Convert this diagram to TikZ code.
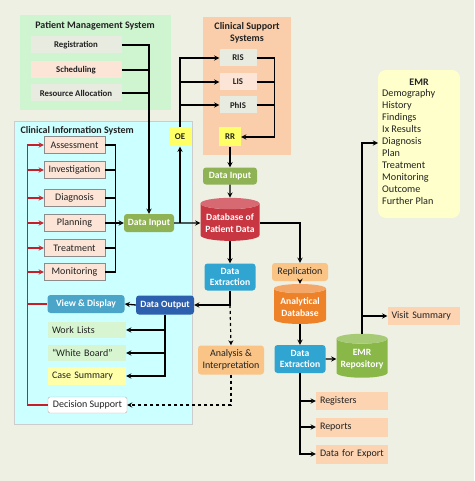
\documentclass[tikz,border=0pt]{standalone}
\usepackage{fontspec}
\setmainfont{Carlito}
\usetikzlibrary{shapes.geometric}
\newlength{\du}
\setlength{\du}{1pt}
\definecolor{bgcolor}{rgb}{0.929, 0.941, 0.886}
\definecolor{pmsgreen}{rgb}{0.808, 0.957, 0.816}
\definecolor{csspeach}{rgb}{0.980, 0.808, 0.667}
\definecolor{ciscyan}{rgb}{0.800, 1.000, 1.000}
\definecolor{itemgray}{rgb}{0.910, 0.922, 0.878}
\definecolor{itempink}{rgb}{0.988, 0.894, 0.839}
\definecolor{hiyellow}{rgb}{1.000, 1.000, 0.400}
\definecolor{inputgreen}{rgb}{0.561, 0.702, 0.329}
\definecolor{dbred}{rgb}{0.784, 0.216, 0.255}
\definecolor{extblue}{rgb}{0.192, 0.647, 0.824}
\definecolor{viewteal}{rgb}{0.294, 0.647, 0.784}
\definecolor{outblue}{rgb}{0.176, 0.373, 0.686}
\definecolor{lightorange}{rgb}{0.980, 0.769, 0.525}
\definecolor{anaorange}{rgb}{0.933, 0.510, 0.157}
\definecolor{emrgreen}{rgb}{0.541, 0.722, 0.282}
\definecolor{emryellow}{rgb}{1.000, 1.000, 0.800}
\definecolor{docpeach}{rgb}{0.988, 0.831, 0.698}
\definecolor{listgreen}{rgb}{0.839, 0.961, 0.816}
\definecolor{caseyellow}{rgb}{1.000, 1.000, 0.667}
\definecolor{redline}{rgb}{0.784, 0.118, 0.157}
\definecolor{textdark}{rgb}{0.133, 0.133, 0.133}

\begin{document}
\begin{tikzpicture}[
  font=\fontsize{10}{12}\selectfont,
  title/.style={font=\fontsize{10}{12}\selectfont\bfseries, text=textdark, align=center},
  sysbox/.style={minimum height=17\du, inner sep=1\du, text=textdark,
    font=\fontsize{8.8}{10}\selectfont\bfseries},
  item/.style={draw=black!45, fill=itempink, minimum width=61\du, minimum height=17\du,
    inner sep=1\du, text=textdark},
  tag/.style={fill=hiyellow, minimum width=23\du, minimum height=19\du, inner sep=1\du,
    font=\fontsize{8.8}{10}\selectfont\bfseries, text=textdark},
  flow/.style={rounded corners=3\du, inner sep=1\du, align=center, text=white,
    font=\fontsize{9.6}{11.5}\selectfont\bfseries},
  soft/.style={rounded corners=3\du, fill=lightorange, inner sep=1\du, align=center,
    text=textdark},
  listbox/.style={minimum height=16\du, inner xsep=4\du, inner ysep=1\du, text width=70\du,
    align=left, text=textdark},
  doc/.style={fill=docpeach, minimum height=18\du, inner xsep=4\du, inner ysep=1\du,
    text width=64\du, align=left, text=textdark},
  dbase/.style={cylinder, shape border rotate=90, aspect=0.22, cylinder uses custom fill,
    align=center, inner sep=1\du, text=white, font=\fontsize{9.6}{11.5}\selectfont\bfseries},
  link/.style={line width=1.3\du, black},
  arr/.style={link, -stealth},
  redlink/.style={line width=1.3\du, redline},
]
\pgftransformxscale{1.000000}
\pgftransformyscale{-1.000000}
\useasboundingbox (0\du,0\du) rectangle (474\du,481\du);
\fill[bgcolor] (0\du,0\du) rectangle (474\du,481\du);
% panels
\fill[pmsgreen] (20\du,15\du) rectangle (171\du,110\du);
\fill[csspeach] (203\du,17\du) rectangle (291\du,155\du);
\fill[ciscyan] (14\du,121\du) rectangle (192\du,424\du);
\draw[black!20, line width=0.6\du] (14\du,121\du) rectangle (192\du,424\du);
\fill[emryellow, rounded corners=8\du] (378\du,70\du) rectangle (460\du,218\du);
\node[title] (pmstitle) at (95\du,26\du){Patient Management System};
\node[title] (csstitle) at (247\du,33\du){Clinical Support\\Systems};
\node[title, anchor=west] (cistitle) at (17\du,131\du){Clinical Information System};
% patient management
\node[sysbox, fill=itemgray, minimum width=91\du] (reg) at (76\du,45\du){Registration};
\node[sysbox, fill=itempink, minimum width=91\du] (sched) at (76\du,70\du){Scheduling};
\node[sysbox, fill=itemgray, minimum width=91\du] (resalloc) at (76\du,93\du){Resource Allocation};
% clinical support
\node[sysbox, fill=itemgray, minimum width=37\du] (ris) at (238\du,58\du){RIS};
\node[sysbox, fill=itempink, minimum width=37\du] (lis) at (238\du,82\du){LIS};
\node[sysbox, fill=itemgray, minimum width=37\du] (phis) at (238\du,105\du){PhIS};
\node[tag] (oe) at (180\du,137\du){OE};
\node[tag, minimum width=22\du] (rr) at (230\du,137\du){RR};
% clinical information
\node[item] (ass) at (74.5\du,145\du){Assessment};
\node[item] (inv) at (74.5\du,170\du){Investigation};
\node[item] (diag) at (74.5\du,198\du){Diagnosis};
\node[item] (plan) at (74.5\du,223\du){Planning};
\node[item] (treat) at (74.5\du,248\du){Treatment};
\node[item] (mon) at (74.5\du,272\du){Monitoring};
\node[flow, fill=inputgreen, minimum width=50\du, minimum height=18\du] (datain) at (149\du,223\du){Data Input};
\node[flow, fill=viewteal, minimum width=77\du, minimum height=18\du] (viewdisp) at (86\du,304\du){View \& Display};
\node[flow, fill=outblue, minimum width=58\du, minimum height=19\du] (dataout) at (165\du,305\du){Data Output};
\node[listbox, fill=listgreen] (worklists) at (87\du,330\du){Work Lists};
\node[listbox, fill=listgreen] (whiteboard) at (87\du,353\du){“White Board”};
\node[listbox, fill=caseyellow, minimum height=18\du] (casesum) at (87\du,376\du){Case Summary};
\node[draw=black!30, fill=white, rounded corners=2\du, minimum width=79\du, minimum height=16\du,
  inner sep=1\du, text=textdark] (decsup) at (87.5\du,405\du){Decision Support};
% data flow
\node[flow, fill=inputgreen, minimum width=54\du, minimum height=17\du] (datain2) at (230\du,176\du){Data Input};
\node[dbase, cylinder body fill=dbred, cylinder end fill=dbred!75!white,
  minimum width=59\du, minimum height=43\du] (db) at (230\du,223\du){Database of\\Patient Data};
\node[flow, fill=extblue, minimum width=51\du, minimum height=27\du] (dataext) at (230\du,277\du){Data\\Extraction};
\node[soft, minimum width=56\du, minimum height=18\du] (repl) at (300\du,272\du){Replication};
\node[dbase, cylinder body fill=anaorange, cylinder end fill=anaorange!70!white,
  minimum width=52\du, minimum height=40\du] (anadb) at (300\du,307\du){Analytical\\Database};
\node[soft, minimum width=66\du, minimum height=29\du] (analysis) at (231\du,360\du){Analysis \&\\Interpretation};
\node[flow, fill=extblue, minimum width=51\du, minimum height=28\du] (dataext2) at (300\du,359\du){Data\\Extraction};
\node[dbase, cylinder body fill=emrgreen, cylinder end fill=emrgreen!75!white,
  minimum width=51\du, minimum height=44\du] (emrrepo) at (362\du,359\du){EMR\\Repository};
\node[doc] (visitsum) at (423.5\du,316\du){Visit Summary};
\node[doc] (registers) at (352\du,401\du){Registers};
\node[doc, minimum height=19\du] (reports) at (352\du,427\du){Reports};
\node[doc, minimum height=19\du] (export) at (352\du,454\du){Data for Export};
% emr record
\node[title] (emrtitle) at (419\du,82\du){EMR};
\node[anchor=north west, align=left, text=textdark, font=\fontsize{10.2}{12}\selectfont,
  inner sep=0pt] (emrlist) at (382\du,89\du){Demography\\History\\Findings\\Ix Results\\Diagnosis\\Plan\\Treatment\\Monitoring\\Outcome\\Further Plan};
\coordinate (emrin) at (378\du,143\du);
% connectors
\draw[arr] (reg.east) -| (datain.north);
\draw[link] (sched.east) -- (sched.east -| datain.north);
\draw[link] (resalloc.east) -- (resalloc.east -| datain.north);
\draw[arr] (oe.north) |- (ris.west);
\draw[arr] (lis.west -| oe.north) -- (lis.west);
\draw[arr] (phis.west -| oe.north) -- (phis.west);
\draw[arr] (ris.east) -- ++(17.5\du,0) |- (rr.east);
\draw[link] (lis.east) -- ++(17.5\du,0);
\draw[link] (phis.east) -- ++(17.5\du,0);
\draw[arr] (rr.south) -- (datain2.north);
\draw[arr] (datain2.south) -- (db.north);
\draw[link] (ass.east) -- ++(10\du,0) |- (mon.east);
\draw[link] (inv.east) -- ++(10\du,0);
\draw[link] (diag.east) -- ++(10\du,0);
\draw[link] (treat.east) -- ++(10\du,0);
\draw[arr] (plan.east) -- (datain.west);
\draw[arr] (datain.east) -- (db.west);
\draw[arr] (datain.east -| oe.south) -- (oe.south);
% red feedback from decision support
\draw[redlink, -stealth] (decsup.west) -- ++(-20.5\du,0) |- (ass.west);
\draw[redlink, -stealth] (inv.west) ++(-17\du,0) -- (inv.west);
\draw[redlink, -stealth] (diag.west) ++(-17\du,0) -- (diag.west);
\draw[redlink, -stealth] (plan.west) ++(-17\du,0) -- (plan.west);
\draw[redlink, -stealth] (treat.west) ++(-17\du,0) -- (treat.west);
\draw[redlink, -stealth] (mon.west) ++(-17\du,0) -- (mon.west);
\draw[redlink] (viewdisp.west) -- ++(-20.5\du,0);
\draw[arr] (db.east) -| (repl.north);
\draw[arr] (db.south) -- (dataext.north);
\draw[arr] (dataext.south) |- (dataout.east);
\draw[arr] (dataout.west) -- (viewdisp.east);
\draw[arr] (dataout.south) |- (casesum.east);
\draw[arr] (dataout.south |- worklists.east) -- (worklists.east);
\draw[arr] (dataout.south |- whiteboard.east) -- (whiteboard.east);
\draw[arr, dashed, line width=1.2\du] (dataext.south |- dataout.east) -- (analysis.north);
\draw[arr, dashed, line width=1.2\du] (analysis.south) |- (decsup.east);
\draw[arr] (repl.south) -- (anadb.north);
\draw[arr] (anadb.south) -- (dataext2.north);
\draw[arr] (dataext2.east) -- (emrrepo.west);
\draw[arr] (emrrepo.north) |- (emrin);
\draw[arr] (emrrepo.north |- visitsum.west) -- (visitsum.west);
\draw[arr] (dataext2.south) |- (export.west);
\draw[arr] (dataext2.south |- registers.west) -- (registers.west);
\draw[arr] (dataext2.south |- reports.west) -- (reports.west);
\end{tikzpicture}
\end{document}
